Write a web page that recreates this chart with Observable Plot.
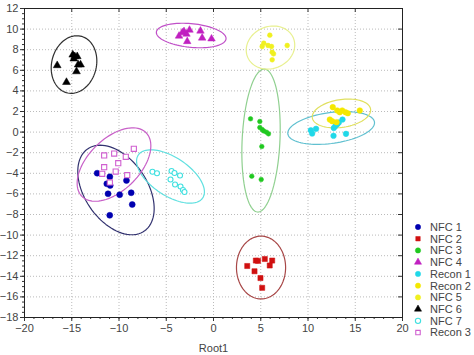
<!DOCTYPE html>
<html>
<head>
<meta charset="utf-8">
<script src="https://cdn.jsdelivr.net/npm/d3@7"></script>
<script src="https://cdn.jsdelivr.net/npm/@observablehq/plot@0.6"></script>
<style>
  html, body { margin: 0; padding: 0; background: #fff; }
  #chart { width: 474px; height: 355px; }
  svg { font-family: "Liberation Sans", Arial, sans-serif; }
</style>
</head>
<body>
<div id="chart"></div>
<script>
// ---------- data ----------
const groups = ["NFC 1", "NFC 2", "NFC 3", "NFC 4", "Recon 1", "Recon 2", "NFC 5", "NFC 6", "NFC 7", "Recon 3"];

const nfc1X = [-12.31, -10.97, -11.29, -10.93, -9.21, -11.16, -9.93, -8.71, -8.60, -10.98];
const nfc1Y = [-3.99, -4.34, -5.02, -5.18, -4.70, -5.99, -6.08, -5.89, -7.03, -8.08];
const nfc2X = [3.57, 4.48, 4.71, 5.43, 6.21, 5.95, 4.34, 4.97, 5.15];
const nfc2Y = [-13.0, -12.47, -12.5, -12.32, -12.47, -12.95, -13.51, -14.17, -15.12];
const nfc3X = [3.92, 4.90, 4.90, 5.15, 5.32, 5.61, 5.82, 5.11, 4.05, 5.05];
const nfc3Y = [1.29, 1.03, 0.45, 0.25, 0.11, -0.01, -0.17, -1.40, -4.28, -4.60];
const nfc4X = [-3.65, -3.31, -3.12, -2.86, -2.54, -2.78, -1.38, -1.20, -0.21];
const nfc4Y = [9.33, 9.67, 9.77, 9.52, 9.91, 8.80, 9.82, 9.14, 9.06];
const recon1X = [10.30, 10.44, 10.85, 12.70, 14.02, 12.91, 13.09, 13.26, 13.65, 12.73];
const recon1Y = [0.18, -0.14, 0.32, -0.36, -0.17, 0.59, 0.77, 0.93, 1.22, 0.40];
const recon2X = [12.62, 13.09, 13.36, 13.62, 13.97, 14.21, 15.48, 12.31, 12.56, 13.02];
const recon2Y = [2.42, 2.10, 1.93, 2.10, 1.93, 1.83, 2.10, 1.22, 1.06, 0.96];
const nfc5X = [5.96, 5.32, 5.15, 5.77, 6.14, 6.21, 6.35, 6.21, 7.80];
const nfc5Y = [9.41, 8.63, 8.31, 8.41, 8.31, 7.76, 7.60, 7.02, 8.41];
const nfc6X = [-14.89, -14.68, -14.42, -14.78, -14.32, -14.07, -14.50, -16.54, -15.56];
const nfc6Y = [7.50, 7.34, 7.34, 7.12, 6.54, 6.54, 5.88, 6.47, 4.84];
const nfc7X = [-6.46, -5.98, -4.44, -4.13, -3.54, -4.55, -4.07, -3.49, -3.23, -3.07];
const nfc7Y = [-3.85, -3.99, -3.78, -3.97, -4.21, -4.60, -5.09, -5.28, -5.62, -5.82];
const recon3X = [-11.57, -10.51, -9.28, -8.43, -11.57, -10.08, -10.35, -11.78, -9.13, -10.97];
const recon3Y = [-2.27, -2.08, -2.40, -1.62, -3.41, -3.02, -3.83, -4.05, -4.18, -4.89];

// confidence ellipses: centre, semi-axes, rotation (degrees) in data units
const ellCx    = [-10.32, 5.03, 5.03, -2.36, 12.45, 13.54, 6.03, -14.76, -4.55, -10.53];
const ellCy    = [-5.62, -13.15, -0.82, 9.38, 0.40, 1.81, 8.21, 6.56, -4.31, -3.15];
const ellA     = [5.0, 3.05, 6.95, 3.7, 4.62, 3.11, 2.6, 2.85, 4.0, 4.6];
const ellB     = [3.2, 2.6, 2.0, 1.15, 1.5, 1.35, 2.05, 2.35, 1.9, 2.6];
const ellAngle = [-50, 90, 87, -5, 7, 7.5, 15, 70, -30, 40];

const xTicks = [-20, -15, -10, -5, 0, 5, 10, 15, 20];
const yTicks = [-18, -16, -14, -12, -10, -8, -6, -4, -2, 0, 2, 4, 6, 8, 10, 12];
const xLabel = "Root1";

// ---------- styles ----------
const pointColor = ["#0000b0", "#d01010", "#20c820", "#c020c0", "#20d8e8", "#f4e800", "#f0f020", "#000000", "#40e0e0", "#d060d0"];
const ellColor   = ["#333370", "#a84848", "#90d090", "#c050c8", "#60c0d0", "#e0e060", "#e8f090", "#303030", "#60e0e0", "#c860c8"];
const symbols    = ["circle", "square", "circle", "triangle", "circle", "circle", "circle", "triangle", "circle", "square"];
const filled     = [true, true, true, true, true, true, true, true, false, false];
const radius     = [3, 2.9, 2.3, 2.8, 2.8, 2.8, 2.4, 2.9, 2.5, 2.9];

const xs = [nfc1X, nfc2X, nfc3X, nfc4X, recon1X, recon2X, nfc5X, nfc6X, nfc7X, recon3X];
const ys = [nfc1Y, nfc2Y, nfc3Y, nfc4Y, recon1Y, recon2Y, nfc5Y, nfc6Y, nfc7Y, recon3Y];

const points = groups.flatMap((g, i) => xs[i].map((x, j) => ({group: g, i, x, y: ys[i][j]})));

const ellipsePts = groups.flatMap((g, i) => {
  const th = ellAngle[i] * Math.PI / 180;
  return d3.range(0, 361, 4).map(deg => {
    const t = deg * Math.PI / 180;
    const u = ellA[i] * Math.cos(t), v = ellB[i] * Math.sin(t);
    return {group: g, i,
      x: ellCx[i] + u * Math.cos(th) - v * Math.sin(th),
      y: ellCy[i] + u * Math.sin(th) + v * Math.cos(th)};
  });
});

const W = 474, H = 355;
const mL = 24, mR = 72, mT = 8, mB = 38;
const innerW = W - mL - mR, innerH = H - mT - mB;

const chart = Plot.plot({
  width: W, height: H,
  marginLeft: mL, marginRight: mR, marginTop: mT, marginBottom: mB,
  style: {fontFamily: "Liberation Sans, Arial, sans-serif", fontSize: "11px", color: "#444", background: "#fff"},
  x: {domain: [-20, 20]},
  y: {domain: [-18, 12]},
  marks: [
    Plot.gridX(xTicks, {stroke: "#bbb", strokeOpacity: 1, strokeDasharray: "1,2"}),
    Plot.gridY(yTicks, {stroke: "#bbb", strokeOpacity: 1, strokeDasharray: "1,2"}),
    Plot.axisX(d3.range(-20, 21, 1), {tickSize: 2, text: null, label: null, stroke: "#333"}),
    Plot.axisY(d3.range(-18, 12.1, 0.5), {tickSize: 2, text: null, label: null, stroke: "#333"}),
    Plot.axisX(xTicks, {tickSize: 4, tickPadding: 3, label: xLabel, labelAnchor: "center", labelArrow: "none", labelOffset: 34, fill: "#444", stroke: "#333"}),
    Plot.axisY(yTicks, {tickSize: 4, tickPadding: 2, label: null, fill: "#444", stroke: "#333"}),
    Plot.ruleX(xTicks, {x: d => d, insetBottom: innerH - 4, stroke: "#333"}),
    Plot.ruleY(yTicks, {y: d => d, insetLeft: innerW - 4, stroke: "#333"}),
    Plot.line(ellipsePts, {x: "x", y: "y", z: "group", stroke: d => ellColor[d.i], strokeWidth: 1.2, curve: "linear-closed"}),
    ...groups.map((g, i) => Plot.dot(points.filter(p => p.i === i), {
      x: "x", y: "y", symbol: () => symbols[i], r: radius[i],
      fill: filled[i] ? pointColor[i] : "white",
      stroke: pointColor[i], strokeWidth: filled[i] ? 0.5 : 1.1
    })),
    Plot.frame({stroke: "#222", strokeWidth: 1})
  ]
});

document.getElementById("chart").appendChild(chart);

// legend in the right margin
const svg = d3.select(chart);
const lg = svg.append("g")
  .attr("font-family", "Liberation Sans, Arial, sans-serif")
  .attr("font-size", "11px")
  .attr("text-anchor", "start");
const d3sym = {circle: d3.symbolCircle, square: d3.symbolSquare, triangle: d3.symbolTriangle, star: d3.symbolStar};
groups.forEach((g, i) => {
  const yy = 227 + i * 11.73;
  lg.append("path")
    .attr("transform", `translate(418,${yy})`)
    .attr("d", d3.symbol(d3sym[symbols[i]], symbols[i] === "square" ? 20 : 22)())
    .attr("fill", filled[i] ? pointColor[i] : "white")
    .attr("stroke", pointColor[i])
    .attr("stroke-width", filled[i] ? 0.5 : 1.1);
  lg.append("text").attr("x", 430).attr("y", yy).attr("dy", "0.35em")
    .attr("text-anchor", "start").attr("fill", "#444").text(g);
});
</script>
</body>
</html>
